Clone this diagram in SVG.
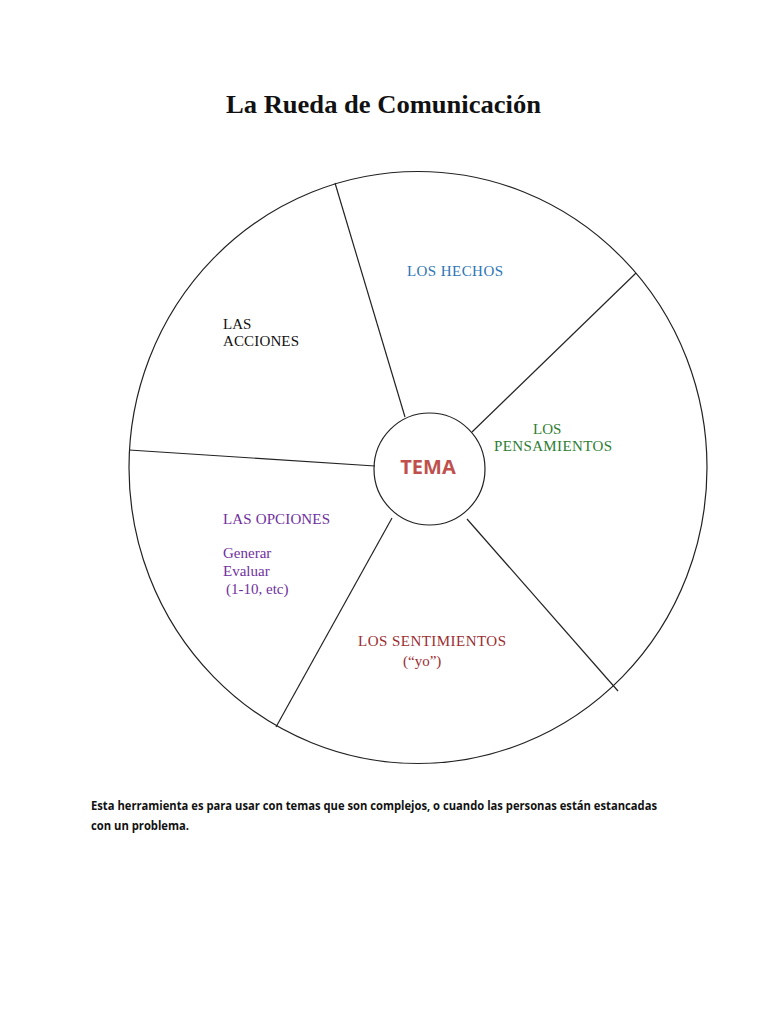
<svg xmlns="http://www.w3.org/2000/svg" width="768" height="1024" viewBox="0 0 768 1024">
<style>
.ln{stroke:#222;stroke-width:1.2;fill:none}
.lb{font-family:"Liberation Serif","DejaVu Serif",serif;font-size:15px}
</style>
<rect width="768" height="1024" fill="#fff"/>
<text x="226" y="113" font-family="Liberation Serif, serif" font-weight="bold" font-size="25" fill="#111" textLength="315" lengthAdjust="spacingAndGlyphs">La Rueda de Comunicación</text>
<g id="wheel">
<ellipse class="ln" cx="418" cy="467.5" rx="289" ry="296"/>
</g>
<g id="connectors">
<line class="ln" x1="335" y1="183" x2="405" y2="417"/>
<line class="ln" x1="636" y1="273" x2="472" y2="432"/>
<line class="ln" x1="618" y1="691" x2="467" y2="519"/>
<line class="ln" x1="276" y1="727" x2="392" y2="518"/>
<line class="ln" x1="129" y1="450" x2="375" y2="466"/>
</g>
<g id="tema">
<ellipse class="ln" cx="429.5" cy="469" rx="55.5" ry="56"/>
<text x="428" y="474" text-anchor="middle" font-family="Open Sans, Liberation Sans, sans-serif" font-weight="bold" font-size="20" fill="#c0504d">TEMA</text>
</g>
<g id="hechos"><text class="lb" x="407" y="276" fill="#2e75b6" textLength="96">LOS HECHOS</text></g>
<g id="acciones"><text class="lb" fill="#111"><tspan x="223" y="329">LAS</tspan><tspan x="223" y="346" textLength="76">ACCIONES</tspan></text></g>
<g id="pensamientos"><text class="lb" fill="#2e7d32"><tspan x="533" y="434">LOS</tspan><tspan x="494" y="451" textLength="118">PENSAMIENTOS</tspan></text></g>
<g id="opciones"><text class="lb" fill="#7030a0"><tspan x="223" y="524" textLength="107">LAS OPCIONES</tspan><tspan x="223" y="558">Generar</tspan><tspan x="223" y="576">Evaluar</tspan><tspan x="226" y="594">(1-10, etc)</tspan></text></g>
<g id="sentimientos"><text class="lb" fill="#9b2d30"><tspan x="358" y="646" textLength="148">LOS SENTIMIENTOS</tspan><tspan x="403" y="666">(“yo”)</tspan></text></g>
<text font-family="Open Sans, Liberation Sans, sans-serif" font-weight="bold" font-size="12" fill="#111"><tspan x="91" y="810" textLength="566" lengthAdjust="spacingAndGlyphs">Esta herramienta es para usar con temas que son complejos, o cuando las personas están estancadas</tspan><tspan x="91" y="830" textLength="98" lengthAdjust="spacingAndGlyphs">con un problema.</tspan></text>
</svg>
